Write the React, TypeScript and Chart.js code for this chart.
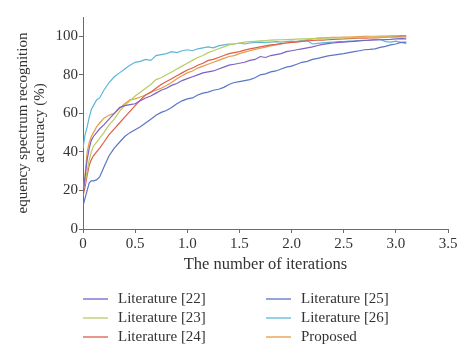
import React, { useEffect, useRef } from "react";
import { Chart, registerables } from "chart.js";

Chart.register(...registerables);

const xValues = [0, 0.02, 0.04, 0.06, 0.08, 0.1, 0.13, 0.16, 0.2, 0.25, 0.3, 0.35, 0.4, 0.45, 0.5, 0.55, 0.6, 0.65, 0.7, 0.75, 0.8, 0.85, 0.9, 0.95, 1.0, 1.05, 1.1, 1.15, 1.2, 1.25, 1.3, 1.35, 1.4, 1.45, 1.5, 1.55, 1.6, 1.65, 1.7, 1.75, 1.8, 1.85, 1.9, 1.95, 2.0, 2.05, 2.1, 2.15, 2.2, 2.25, 2.3, 2.35, 2.4, 2.45, 2.5, 2.55, 2.6, 2.65, 2.7, 2.75, 2.8, 2.85, 2.9, 2.95, 3.0, 3.05, 3.1];

const lit22 = [18, 27, 36, 42, 46, 48, 50, 52, 54, 57, 60, 63, 64, 64.5, 65, 66.5, 68, 69, 70.5, 72, 73, 74.5, 75.5, 77, 78, 79, 80, 81, 81.5, 82, 83, 84, 85, 85.5, 86, 86.5, 87.5, 88, 89.5, 89, 90, 90.5, 91, 92, 92.5, 93, 93.5, 94, 94.5, 95.2, 95.8, 96.2, 96.5, 96.8, 97, 97.2, 97.4, 97.6, 97.8, 98, 98.1, 98.2, 98.3, 98.4, 98.6, 98.8, 98.6];
const lit23 = [20, 24, 30, 36, 40, 43, 45, 47, 50, 54, 57, 61, 64, 66.5, 69, 71, 73, 75, 77.5, 78.5, 80, 81.5, 83, 84.5, 86, 87.5, 89, 90, 91.5, 92.5, 93.5, 94.5, 95.5, 96, 96.5, 97, 97.2, 97.4, 97.6, 97.8, 98, 98.1, 98.2, 98.3, 98.4, 98.5, 98.6, 98.7, 98.8, 98.9, 99, 99, 99.1, 99.1, 99.2, 99.2, 99.3, 99.3, 99.4, 99.4, 99.5, 99.5, 99.5, 99.6, 99.6, 99.6, 99.6];
const lit24 = [17, 22, 28, 33, 36, 38, 40, 42, 45, 49, 52, 55, 58, 61, 64, 67, 69.5, 71, 73, 75, 76.5, 78, 79.5, 81, 82.5, 83.5, 85, 86, 87.5, 88, 89, 90, 91, 91.5, 92, 92.8, 93.5, 94, 94.5, 95, 95.5, 95.8, 96.2, 96.5, 96.8, 97, 97.3, 97.6, 97.8, 98, 98, 98.2, 98.4, 98.5, 98.6, 98.8, 98.9, 99, 99, 99.1, 99.2, 99.3, 99.5, 99.6, 99.8, 99.9, 100];
const lit25 = [12, 16, 20, 24, 25, 25, 25.5, 27, 32, 38, 42, 45, 48, 50, 51.5, 53, 55, 57, 59, 60.5, 61.5, 63, 65, 66.5, 67.5, 68, 69.5, 70.5, 71, 72, 72.5, 73.5, 75, 76, 76.5, 77, 77.5, 78.5, 80, 80.5, 81.5, 82, 83, 84, 84.5, 85.5, 86.5, 87, 88, 88.5, 89.2, 89.8, 90.2, 90.6, 91, 91.5, 92, 92.5, 93, 93.2, 93.5, 94.2, 94.8, 95.5, 96, 96.8, 97];
const lit26 = [42, 49, 53, 58, 62, 64, 67, 68, 72, 76, 79, 81, 83, 85, 86.5, 87, 88, 87.5, 90, 90.5, 91, 92, 91.5, 92.5, 93, 92.5, 93.5, 94, 94.5, 94, 95, 95.5, 96, 96, 96.5, 96, 96.5, 96.8, 97, 96.8, 97, 97.2, 97, 97.3, 97.5, 97.3, 97.6, 97.8, 96, 96.3, 96.6, 96.8, 97, 97.2, 97.3, 97.5, 97.6, 97.8, 97.9, 98, 98.2, 98.3, 97.2, 97, 97.5, 96.8, 96.2];
const proposed = [19, 28, 40, 45, 48, 50, 53, 55, 57.5, 59, 60, 62.5, 65, 67, 67.5, 68.5, 69.5, 71, 72, 73, 74.5, 76, 78, 79.5, 81, 82, 83.5, 84.5, 85.5, 86.5, 87.5, 88.5, 89.5, 90, 91, 91.8, 92.5, 93.2, 93.8, 94.4, 95, 95.5, 96, 96.5, 97, 97.4, 97.8, 98.2, 98.6, 99, 99.2, 99.3, 99.4, 99.5, 99.6, 99.6, 99.7, 99.8, 99.9, 100, 100, 100.1, 100.1, 100.2, 100.2, 100.3, 100.3];

const seriesLabels = ["Literature [22]", "Literature [23]", "Literature [24]", "Literature [25]", "Literature [26]", "Proposed"];
const seriesValues = [lit22, lit23, lit24, lit25, lit26, proposed];
const seriesColors = ["#7c62c6", "#b8cc62", "#dd5e48", "#5a75c8", "#5cb6d8", "#e89a4a"];

const xTitle = "The number of iterations";
const yTitle = ["equency spectrum recognition", "accuracy (%)"];

const FONT = "'Liberation Serif', 'Times New Roman', serif";
const AXIS_COLOR = "#6b6b6b";
const TEXT_COLOR = "#333333";

const legendPlugin = {
  id: "gridLegend",
  afterDraw(chart: any) {
    const ctx = chart.ctx;
    const area = chart.chartArea;
    const ds = chart.data.datasets;
    // column-major: 3 rows, 2 columns
    const rows = 3;
    const colX = [area.left, area.left + 183];
    const rowY0 = 299;
    const rowGap = 19;
    ctx.save();
    ctx.font = `15px ${FONT}`;
    ctx.textBaseline = "middle";
    ctx.textAlign = "left";
    ds.forEach((d: any, i: number) => {
      const col = Math.floor(i / rows);
      const row = i % rows;
      const x = colX[col];
      const y = rowY0 + row * rowGap;
      ctx.strokeStyle = d.borderColor;
      ctx.lineWidth = 1.3;
      ctx.beginPath();
      ctx.moveTo(x, y);
      ctx.lineTo(x + 25, y);
      ctx.stroke();
      ctx.fillStyle = TEXT_COLOR;
      ctx.fillText(d.label, x + 35, y + 0.5);
    });
    ctx.restore();
  },
};

export default function App() {
  const ref = useRef<HTMLCanvasElement | null>(null);

  useEffect(() => {
    document.body.style.margin = "0";
    const canvas = ref.current;
    if (!canvas) return;
    const chart = new Chart(canvas, {
      type: "line",
      data: {
        datasets: seriesLabels.map((label, i) => ({
          label,
          data: xValues.map((x, j) => ({ x, y: seriesValues[i][j] })),
          borderColor: seriesColors[i],
          backgroundColor: seriesColors[i],
          borderWidth: 1.2,
          pointRadius: 0,
          tension: 0,
          fill: false,
        })),
      },
      options: {
        responsive: false,
        animation: false,
        layout: { padding: { left: 0, top: 17, right: 26, bottom: 87 } },
        plugins: {
          legend: { display: false },
          tooltip: { enabled: false },
        },
        scales: {
          x: {
            type: "linear",
            min: 0,
            max: 3.5,
            afterFit: (scale: any) => {
              scale.height = 46;
            },
            ticks: {
              stepSize: 0.5,
              color: TEXT_COLOR,
              font: { family: FONT, size: 15 },
              padding: 2,
              maxRotation: 0,
            },
            grid: {
              drawOnChartArea: false,
              drawTicks: true,
              tickLength: 4,
              color: AXIS_COLOR,
            },
            border: { display: true, color: AXIS_COLOR, width: 1 },
            title: {
              display: true,
              text: xTitle,
              color: TEXT_COLOR,
              font: { family: FONT, size: 16.5 },
              padding: { top: 0, bottom: 0 },
            },
          },
          y: {
            type: "linear",
            min: 0,
            max: 110,
            afterBuildTicks: (axis: any) => {
              axis.ticks = axis.ticks.filter((t: any) => t.value <= 100);
            },
            afterFit: (scale: any) => {
              scale.width = 83;
            },
            ticks: {
              stepSize: 20,
              color: TEXT_COLOR,
              font: { family: FONT, size: 15 },
              padding: 1,
            },
            grid: {
              drawOnChartArea: false,
              drawTicks: true,
              tickLength: 4,
              color: AXIS_COLOR,
            },
            border: { display: true, color: AXIS_COLOR, width: 1 },
            title: {
              display: true,
              text: yTitle,
              color: TEXT_COLOR,
              font: { family: FONT, size: 15, lineHeight: 1.15 },
              padding: { top: 14.5, bottom: 0 },
            },
          },
        },
      },
      plugins: [legendPlugin],
    });
    return () => chart.destroy();
  }, []);

  return (
    <div style={{ width: 474, height: 362, background: "#ffffff" }}>
      <canvas ref={ref} width={474} height={362} style={{ display: "block" }} />
    </div>
  );
}
